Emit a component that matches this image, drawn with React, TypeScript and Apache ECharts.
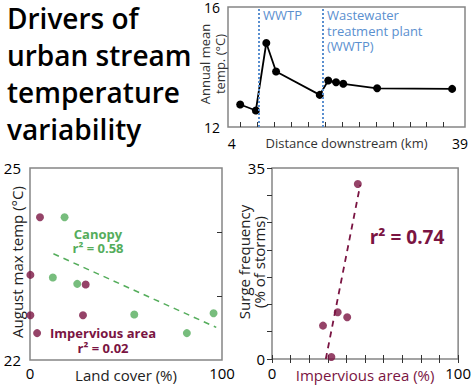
import React, { useEffect, useRef } from "react";
import * as echarts from "echarts";

const titleLines = ["Drivers of", "urban stream", "temperature", "variability"];

// Top chart: annual mean temperature vs distance downstream
const distanceKm = [5.3, 7.7, 9.3, 10.8, 17.5, 18.8, 20.0, 21.1, 26.3, 37.8];
const annualMeanTemp = [12.75, 12.55, 14.8, 13.85, 13.07, 13.55, 13.49, 13.44, 13.29, 13.27];
const wwtpKm = [8.1, 18.0];
const distanceTicks = [5.3, 7.9, 10.5, 13.1, 15.7, 18.3, 20.9, 23.5, 26.1, 28.7, 31.3, 33.9, 36.5];
const distanceLabels = [4, 39];
const annualTempLabels = [12, 16];
const wwtpNoteLines = ["Wastewater", "treatment plant", "(WWTP)"];

// Bottom-left: August max temp vs land cover
const imperviousCover = [5.2, 0.2, 29, 0.2, 27.6, 3.7];
const imperviousAugTemp = [24.23, 23.33, 23.18, 22.7, 22.7, 22.42];
const canopyCover = [18, 11.9, 24.6, 54.3, 95.6, 81.7];
const canopyAugTemp = [24.23, 23.29, 23.19, 22.71, 22.73, 22.42];
const canopyFitX = [12.2, 97];
const canopyFitY = [23.66, 22.51];
const augTempLabels = [22, 25];
const augTempTicks = [23, 24];
const landCoverLabels = [0, 100];

// Bottom-right: surge frequency vs impervious area
const imperviousPct = [46.1, 35.3, 40.4, 27.4, 31.9];
const surgeFreq = [32.06, 8.57, 7.65, 6.12, 0.37];
const surgeFitX = [28.9, 47.4];
const surgeFitY = [0, 31.9];
const surgeLabels = [0, 35];
const imperviousLabels = [0, 100];

const MAROON = "#7a1442";
const GREEN = "#55ad5c";
const BLUE = "#5a8fcf";
const FONT = '"Open Sans", "Noto Sans", sans-serif';
const FRAME = "#858585";

const zip = (a: number[], b: number[]) => a.map((v, i) => [v, b[i]]);

const txt = (
  text: string,
  x: number,
  y: number,
  opts: { size: number; color: string; bold?: boolean | number; align?: string; rotate?: boolean; lh?: number }
) => ({
  type: "text",
  x,
  y,
  rotation: opts.rotate ? Math.PI / 2 : 0,
  style: {
    text,
    fill: opts.color,
    fontSize: opts.size,
    fontWeight: opts.bold === true ? "bold" : opts.bold || "normal",
    fontFamily: FONT,
    textAlign: opts.align || "center",
    textVerticalAlign: "middle",
    ...(opts.lh ? { lineHeight: opts.lh } : {}),
  },
});

export default function App() {
  const ref = useRef<HTMLDivElement>(null);
  useEffect(() => {
    if (!ref.current) return;
    const chart = echarts.init(ref.current, undefined, { renderer: "svg" });
    const grid = (left: number, top: number, width: number, height: number) => ({
      left,
      top,
      width,
      height,
      show: true,
      borderColor: FRAME,
      borderWidth: 1.5,
      backgroundColor: "transparent",
      containLabel: false,
    });
    const noLine = { show: false };
    const tickStyle = { color: "#333", width: 1 };

    chart.setOption({
      animation: false,
      backgroundColor: "#fff",
      textStyle: { fontFamily: FONT },
      grid: [grid(228, 6, 237, 121), grid(30, 168, 192, 192), grid(272, 168, 190, 191)],
      xAxis: [
        {
          gridIndex: 0,
          type: "value",
          min: 3.43,
          max: 39.77,
          axisLine: noLine,
          splitLine: noLine,
          axisTick: { show: true, inside: true, length: 5, customValues: distanceTicks, lineStyle: tickStyle },
          axisLabel: { customValues: distanceLabels, fontSize: 14, color: "#000", margin: 9, fontFamily: FONT },
          name: "Distance downstream (km)",
          nameLocation: "middle",
          nameGap: 16,
          nameMoveOverlap: false,
          nameTextStyle: { fontSize: 13, color: "#333", fontFamily: FONT, verticalAlign: "middle" },
        },
        {
          gridIndex: 1,
          type: "value",
          min: 0,
          max: 100,
          axisLine: noLine,
          splitLine: noLine,
          axisTick: { show: false },
          axisLabel: { customValues: landCoverLabels, fontSize: 15, color: "#000", margin: 5, fontFamily: FONT },
          name: "Land cover (%)",
          nameLocation: "middle",
          nameGap: 15,
          nameMoveOverlap: false,
          nameTextStyle: { fontSize: 15, color: "#222", fontFamily: FONT, verticalAlign: "middle" },
        },
        {
          gridIndex: 2,
          type: "value",
          min: 0,
          max: 100,
          interval: 10,
          axisLine: noLine,
          splitLine: noLine,
          axisTick: { show: true, inside: true, length: 4, lineStyle: tickStyle },
          axisLabel: { customValues: imperviousLabels, fontSize: 15, color: "#000", margin: 6, fontFamily: FONT },
          name: "Impervious area (%)",
          nameLocation: "middle",
          nameGap: 16,
          nameMoveOverlap: false,
          nameTextStyle: { fontSize: 15, color: MAROON, fontFamily: FONT, verticalAlign: "middle" },
        },
        {
          gridIndex: 2,
          type: "value",
          position: "top",
          min: 0,
          max: 100,
          interval: 10,
          axisLine: noLine,
          splitLine: noLine,
          axisTick: { show: true, inside: true, length: 4, lineStyle: tickStyle },
          axisLabel: { show: false },
        },
      ],
      yAxis: [
        {
          gridIndex: 0,
          type: "value",
          min: 12,
          max: 16,
          axisLine: noLine,
          splitLine: noLine,
          axisTick: { show: false },
          axisLabel: { customValues: annualTempLabels, fontSize: 14, color: "#000", margin: 8, fontFamily: FONT },
        },
        {
          gridIndex: 1,
          type: "value",
          min: 22,
          max: 25,
          axisLine: noLine,
          splitLine: noLine,
          axisTick: { show: false },
          axisLabel: { customValues: augTempLabels, fontSize: 15, color: "#000", margin: 9, fontFamily: FONT },
        },
        {
          gridIndex: 1,
          type: "value",
          position: "right",
          min: 22,
          max: 25,
          axisLine: noLine,
          splitLine: noLine,
          axisTick: { show: true, inside: true, length: 5, customValues: augTempTicks, lineStyle: tickStyle },
          axisLabel: { show: false },
        },
        {
          gridIndex: 2,
          type: "value",
          min: 0,
          max: 35,
          axisLine: noLine,
          splitLine: noLine,
          axisTick: { show: false },
          axisLabel: { customValues: surgeLabels, fontSize: 15, color: "#000", margin: 7, fontFamily: FONT },
        },
        {
          gridIndex: 2,
          type: "value",
          position: "right",
          min: 0,
          max: 35,
          interval: 5,
          axisLine: noLine,
          splitLine: noLine,
          axisTick: { show: true, inside: true, length: 5, lineStyle: tickStyle },
          axisLabel: { show: false },
        },
      ],
      series: [
        {
          type: "line",
          xAxisIndex: 0,
          yAxisIndex: 0,
          data: zip(distanceKm, annualMeanTemp),
          symbol: "circle",
          symbolSize: 8,
          itemStyle: { color: "#000" },
          lineStyle: { color: "#000", width: 1.8 },
          markLine: {
            silent: true,
            symbol: "none",
            label: { show: false },
            lineStyle: { color: BLUE, type: "dotted", width: 2 },
            data: wwtpKm.map((x) => ({ xAxis: x })),
          },
          z: 3,
        },
        {
          type: "line",
          xAxisIndex: 1,
          yAxisIndex: 1,
          data: zip(canopyFitX, canopyFitY),
          symbol: "none",
          lineStyle: { color: GREEN, type: [6, 5], width: 1.5 },
        },
        {
          type: "scatter",
          xAxisIndex: 1,
          yAxisIndex: 1,
          data: zip(imperviousCover, imperviousAugTemp),
          symbolSize: 8,
          clip: false,
          itemStyle: { color: MAROON },
        },
        {
          type: "scatter",
          xAxisIndex: 1,
          yAxisIndex: 1,
          data: zip(canopyCover, canopyAugTemp),
          symbolSize: 8,
          clip: false,
          itemStyle: { color: GREEN },
        },
        {
          type: "line",
          xAxisIndex: 2,
          yAxisIndex: 3,
          data: zip(surgeFitX, surgeFitY),
          symbol: "none",
          lineStyle: { color: MAROON, type: [6, 5], width: 1.8 },
        },
        {
          type: "scatter",
          xAxisIndex: 2,
          yAxisIndex: 3,
          data: zip(imperviousPct, surgeFreq),
          symbolSize: 8,
          clip: false,
          itemStyle: { color: MAROON },
        },
      ],
      graphic: [
        ...titleLines.map((t, i) => txt(t, 7, 18 + i * 37, { size: 28, color: "#000", bold: 600, align: "left" })),
        txt("WWTP", 263, 15, { size: 13, color: BLUE, align: "left", lh: 15 }),
        ...wwtpNoteLines.map((t, i) => txt(t, 327, 15 + i * 15.7, { size: 13, color: BLUE, align: "left", lh: 15 })),
        // rotated y-axis titles
        txt("Annual mean", 205, 64, { size: 13, color: "#333", rotate: true, lh: 14 }),
        txt("temp. (°C)", 220, 64, { size: 13, color: "#333", rotate: true, lh: 14 }),
        txt("August max temp (°C)", 17, 262, { size: 15, color: "#222", rotate: true }),
        txt("Surge frequency", 244, 262, { size: 15, color: "#222", rotate: true, lh: 15 }),
        txt("(% of storms)", 259, 262, { size: 15, color: "#222", rotate: true, lh: 15 }),
        // annotations
        txt("Canopy", 98, 234, { size: 13, color: GREEN, bold: true, lh: 14 }),
        txt("r² = 0.58", 98, 248, { size: 13, color: GREEN, bold: true, lh: 14 }),
        txt("Impervious area", 103, 333, { size: 13, color: MAROON, bold: true, lh: 15 }),
        txt("r² = 0.02", 103, 348, { size: 13, color: MAROON, bold: true, lh: 15 }),
        txt("r² = 0.74", 407, 237, { size: 19, color: MAROON, bold: true }),
      ],
    });
    return () => chart.dispose();
  }, []);
  return <div ref={ref} style={{ position: "fixed", left: 0, top: 0, width: 474, height: 388, background: "#fff" }} />;
}
